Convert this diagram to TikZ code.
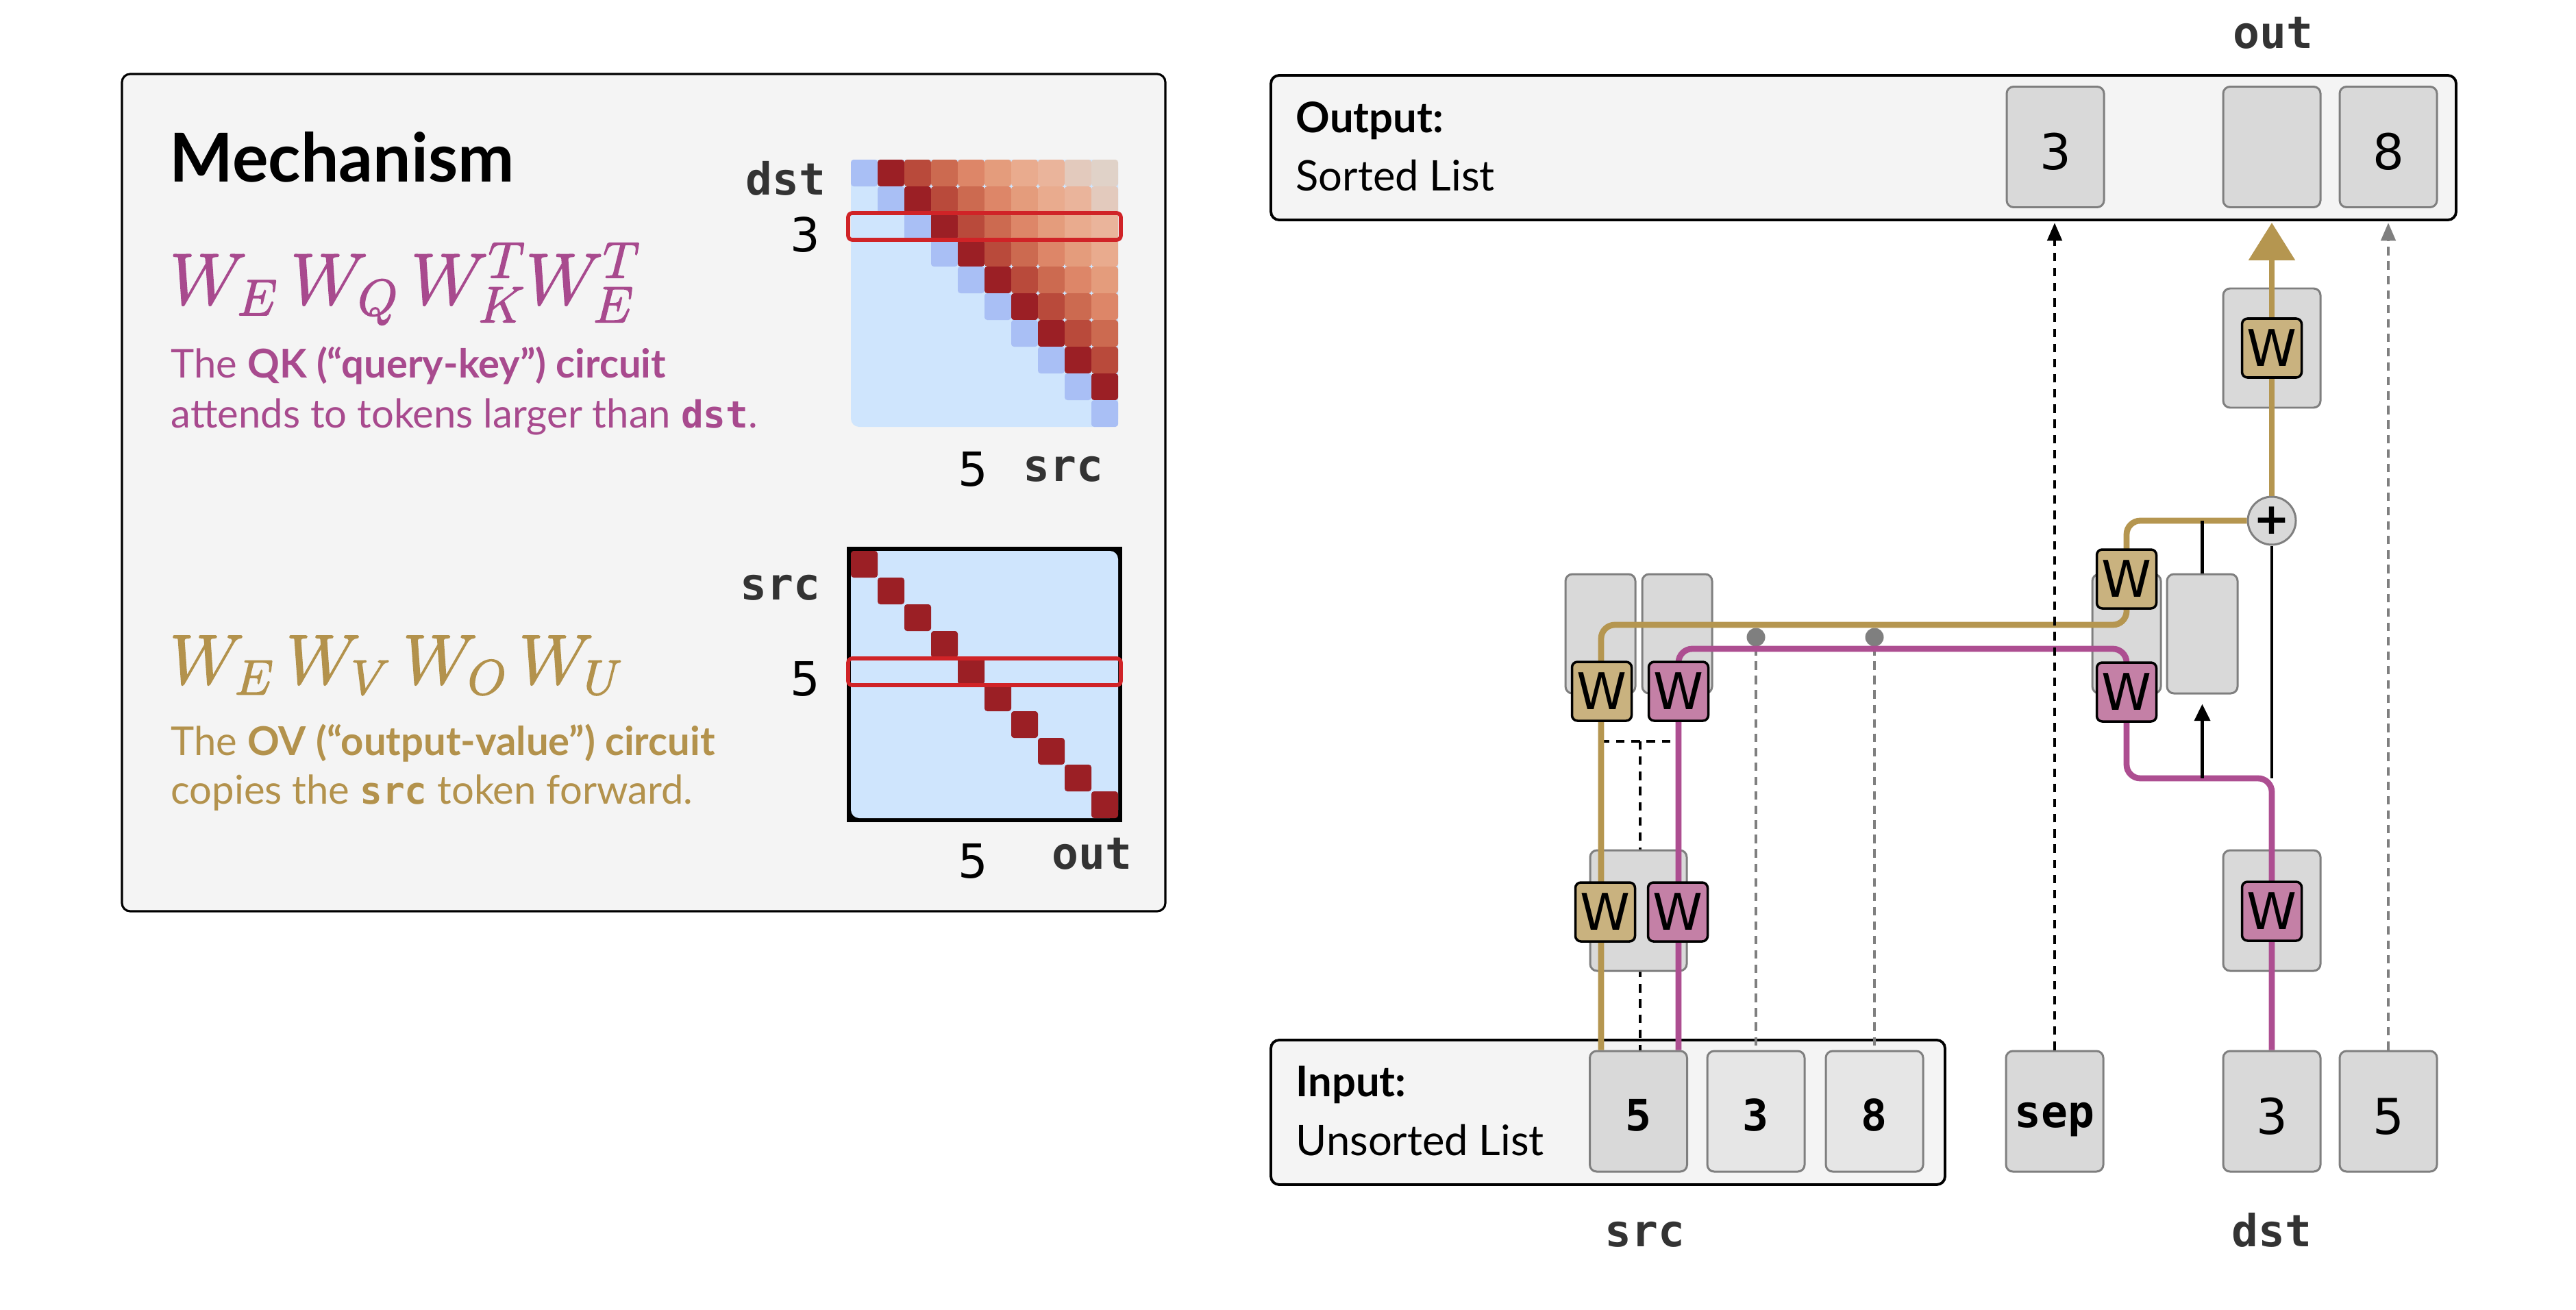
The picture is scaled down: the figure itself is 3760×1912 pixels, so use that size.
\RequirePackage{fix-cm}
\documentclass[tikz,border=0pt]{standalone}
\usepackage{fontspec}
\setmainfont{Lato}
\newfontfamily\dejavu{DejaVu Sans}
\newfontfamily\dmono{DejaVu Sans Mono}
\usetikzlibrary{arrows.meta}
\definecolor{goldL}{HTML}{B59650}
\definecolor{goldF}{HTML}{C9B27F}
\definecolor{goldT}{HTML}{B3924C}
\definecolor{magL}{HTML}{AD4E91}
\definecolor{magF}{HTML}{C480A6}
\definecolor{magT}{HTML}{A84A8E}
\definecolor{panelF}{HTML}{F4F4F4}
\definecolor{boxF}{HTML}{D9D9D9}
\definecolor{boxFl}{HTML}{E6E6E6}
\definecolor{boxL}{HTML}{7F7F7F}
\definecolor{mblue}{HTML}{CFE5FD}
\definecolor{mred}{HTML}{D02327}
\definecolor{lab}{HTML}{333333}
\definecolor{c0}{HTML}{A9BFF5}
\definecolor{c1}{HTML}{9B1F25}
\definecolor{c2}{HTML}{B94A3B}
\definecolor{c3}{HTML}{CC6A50}
\definecolor{c4}{HTML}{DD8668}
\definecolor{c5}{HTML}{E49C7C}
\definecolor{c6}{HTML}{E9AB8E}
\definecolor{c7}{HTML}{EAB49B}
\definecolor{c8}{HTML}{E3CABD}
\definecolor{c9}{HTML}{E0D2C8}
\newcommand{\heavytext}[1]{\special{pdf:literal direct 2 Tr 0.5 w}#1\special{pdf:literal direct 0 Tr}}
\begin{document}
\begin{tikzpicture}[x=0.1mm,y=-0.1mm,
  txt/.style={anchor=base west, inner sep=0},
  monolab/.style={inner sep=0, text=lab, font=\dmono\bfseries\fontsize{18.4}{22}\selectfont},
  diglab/.style={inner sep=0, font=\dejavu\fontsize{19.5}{22}\selectfont},
  cont/.style={draw=black, fill=panelF, line width=1.1pt, rounded corners=1.2mm, inner sep=0},
  tok/.style={draw=boxL, fill=boxF, line width=0.85pt, rounded corners=1mm, minimum width=14.2mm, minimum height=17.6mm, inner sep=0},
  regdig/.style={font=\dejavu\fontsize{20.5}{24}\selectfont, text height=19pt, text depth=0pt},
  bolddig/.style={font=\dmono\bfseries\fontsize{18}{22}\selectfont, text height=16pt, text depth=0pt},
  head/.style={draw=boxL, fill=boxF, line width=0.85pt, rounded corners=1mm, inner sep=0},
  wg/.style={draw=black, fill=goldF, line width=1pt, rounded corners=0.8mm, minimum width=8.7mm, minimum height=8.6mm, inner sep=0, font=\dejavu\fontsize{21}{21}\selectfont},
  wm/.style={wg, fill=magF},
  goldline/.style={draw=goldL, line width=2.5pt, rounded corners=2mm},
  magline/.style={draw=magL, line width=2.5pt, rounded corners=2mm},
  blk/.style={draw=black, line width=1.3pt},
  bdash/.style={draw=black, line width=1.4pt, dash pattern=on 3.5pt off 2.8pt},
  gdash/.style={draw=boxL, line width=1.3pt, dash pattern=on 3.5pt off 2.5pt},
  dot/.style={circle, fill=boxL, minimum size=2.7mm, inner sep=0}
]
\useasboundingbox (0,0) rectangle (3760,1912);
\fill[white] (0,0) rectangle (3760,1912);

% ---------------- left panel ----------------
\draw[fill=panelF, draw=black, line width=0.9pt, rounded corners=1.2mm] (178,108) rectangle (1701,1330);
\node[txt, font=\fontsize{28}{34}\selectfont\bfseries] (mech) at (247,265) {Mechanism};
\node[txt, text=magT, font=\fontsize{30.3}{40}\selectfont] (qkf) at (247,444) {\heavytext{$W_E\,W_Q\,W_K^TW_E^T$}};
\node[txt, text=magT, font=\fontsize{16.5}{20}\selectfont] (qk1) at (249,551) {The \textbf{QK (“query-key”) circuit}};
\node[txt, text=magT, font=\fontsize{16.5}{20}\selectfont] (qk2) at (249,624) {attends to tokens larger than {\dmono\bfseries\fontsize{15.5}{20}\selectfont dst}.};
\node[txt, text=goldT, font=\fontsize{29.2}{40}\selectfont] (ovf) at (247,998) {\heavytext{$W_E\,W_V\,W_O\,W_U$}};
\node[txt, text=goldT, font=\fontsize{16.5}{20}\selectfont] (ov1) at (249,1102) {The \textbf{OV (“output-value”) circuit}};
\node[txt, text=goldT, font=\fontsize{16.5}{20}\selectfont] (ov2) at (249,1173) {copies the {\dmono\bfseries\fontsize{15.5}{20}\selectfont src} token forward.};

% matrix 1 (QK)
\fill[mblue, rounded corners=1.2mm] (1242,233) rectangle (1632,623);
\foreach \i in {0,...,9}{
  \foreach \j in {\i,...,9}{
    \pgfmathtruncatemacro{\dd}{\j-\i}
    \fill[c\dd, rounded corners=0.4mm] ({1242+39*\j},{233+39*\i}) rectangle ++(39,39);
  }
}
\draw[mred, line width=1.6pt, rounded corners=0.6mm] (1238,311) rectangle (1636,350);
\node[monolab, anchor=base east] (m1dst) at (1206,284) {dst};
\node[diglab, anchor=base east] (m1three) at (1198,367) {3};
\node[diglab, anchor=base] (m1five) at (1420,709) {5};
\node[monolab, anchor=base] (m1src) at (1552,702) {src};

% matrix 2 (OV)
\fill[black] (1236,798) rectangle (1638,1200);
\fill[mblue, rounded corners=1.2mm] (1242,804) rectangle (1632,1194);
\foreach \i in {0,...,9}{
  \fill[c1, rounded corners=0.4mm] ({1242+39*\i},{804+39*\i}) rectangle ++(39,39);
}
\draw[mred, line width=1.6pt, rounded corners=0.6mm] (1238,961) rectangle (1636,1000);
\node[monolab, anchor=base east] (m2src) at (1198,875) {src};
\node[diglab, anchor=base east] (m2five) at (1198,1015) {5};
\node[diglab, anchor=base] (m2fiveb) at (1420,1281) {5};
\node[monolab, anchor=base] (m2out) at (1594,1268) {out};

% ---------------- right diagram ----------------
\node[cont, minimum width=173mm, minimum height=21.1mm] (outbox) at (2720,215.5) {};
\node[cont, minimum width=98.4mm, minimum height=21.1mm] (inbox) at (2347,1623.5) {};
\node[txt, font=\fontsize{17.5}{22}\selectfont\bfseries] (outT) at (1891,193) {Output:};
\node[txt, font=\fontsize{17.5}{22}\selectfont] (outS) at (1891,278) {Sorted List};
\node[txt, font=\fontsize{17.5}{22}\selectfont\bfseries] (inT) at (1891,1600) {Input:};
\node[txt, font=\fontsize{17.5}{22}\selectfont] (inS) at (1891,1686) {Unsorted List};

% tokens
\node[tok, regdig] (out3) at (3000,214.5) {3};
\node[tok] (outE) at (3316,214.5) {};
\node[tok, regdig] (out8) at (3486,214.5) {8};
\node[tok, bolddig] (in5) at (2391.5,1622) {5};
\node[tok, fill=boxFl, bolddig] (in3) at (2563,1622) {3};
\node[tok, fill=boxFl, bolddig] (in8) at (2736,1622) {8};
\node[tok, font=\dmono\bfseries\fontsize{18.4}{22}\selectfont, text height=17pt] (sep) at (2999,1622) {sep};
\node[tok, regdig] (dst3) at (3316,1622) {3};
\node[tok, regdig] (dst5) at (3486,1622) {5};

\node[monolab, anchor=base] (outlab) at (3318,71) {out};
\node[monolab, anchor=base] (srclab) at (2401,1819) {src};
\node[monolab, anchor=base] (dstlab) at (3316,1819) {dst};

% gray blocks
\node[head, minimum width=10.2mm, minimum height=17.4mm] (hA) at (2336,925) {};
\node[head, minimum width=10.2mm, minimum height=17.4mm] (hB) at (2448,925) {};
\node[head, minimum width=10mm, minimum height=17.4mm] (hD) at (3104,925) {};
\node[head, minimum width=10.3mm, minimum height=17.4mm] (hE) at (3214.5,925) {};
\node[head, minimum width=14.2mm, minimum height=17.6mm] (hF) at (3316,1329) {};
\node[head, minimum width=14.2mm, minimum height=17.4mm] (hG) at (3316,508) {};

% black dashed copy line behind the lower block
\coordinate (kq) at (2394,1082);
\draw[bdash] (2337,1082) -- (2450,1082);
\draw[bdash] (kq) -- (kq |- in5.north);
\node[head, minimum width=14.1mm, minimum height=17.6mm] (hC) at (2391.5,1329) {};

% gray dashed lines from the other tokens
\node[dot] (d1) at (2563,930) {};
\node[dot] (d2) at (2736,930) {};
\draw[gdash] (d1) -- (in3.north);
\draw[gdash] (d2) -- (in8.north);

% plus node
\node[circle, draw=boxL, fill=boxF, line width=0.85pt, minimum size=7mm, inner sep=0, font=\dejavu\bfseries\fontsize{18}{18}\selectfont] (plus) at (3316,760) {+};

% colored residual paths
\coordinate (mc) at (3316,1136);
\draw[goldline] (2337,0 |- in5.north) -- (2337,912) -- (3104,912) -- (3104,760) -- (plus.west);
\draw[magline] (2450,0 |- in5.north) -- (2450,947) -- (3104,947) -- (3104,1136) -- (mc) -- (dst3.north);
\draw[goldline, -{Triangle[width=18.8pt,length=15.6pt]}, shorten >=0.6pt] (plus.north) -- (outbox.south -| plus.north);

% black lines
\draw[blk] (plus.south) -- (mc);
\draw[blk, -{Triangle[width=6.5pt,length=7pt]}, shorten >=4pt] (3214.5,1136) -- (hE.south);
\draw[blk] (hE.north) -- (hE.north |- plus);

% dashed skip arrows
\draw[bdash, -{Triangle[width=6pt,length=7.5pt]}, shorten >=0.6pt] (sep.north) -- (outbox.south -| sep.north);
\draw[gdash, -{Triangle[width=6pt,length=7.5pt]}, shorten >=0.6pt] (dst5.north) -- (outbox.south -| dst5.north);

% weight boxes
\node[wg] (wA) at (2338,1009) {W};
\node[wm] (wB) at (2450,1009) {W};
\node[wg] (wC) at (2343,1331) {W};
\node[wm] (wD) at (2449,1331) {W};
\node[wg] (wE) at (3104,845) {W};
\node[wm] (wF) at (3104,1010) {W};
\node[wm] (wG) at (3316,1330) {W};
\node[wg] (wH) at (3316,508) {W};
\end{tikzpicture}
\end{document}
